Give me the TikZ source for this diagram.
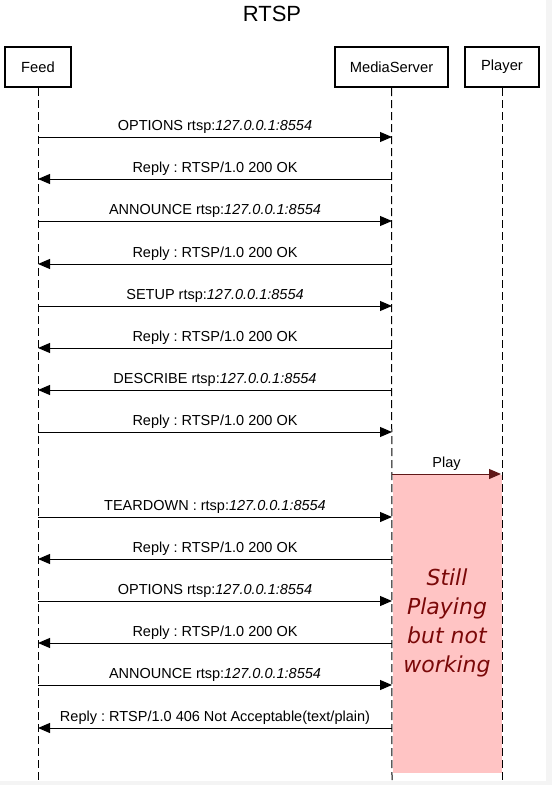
\documentclass[tikz,border=0pt]{standalone}
\usepackage{fontspec}
\setmainfont{Liberation Sans}
\newfontfamily\djv{DejaVu Sans}
\usetikzlibrary{arrows.meta}
\frenchspacing
\definecolor{bggray}{RGB}{244,244,244}
\definecolor{pinkbox}{RGB}{255,196,196}
\definecolor{darkred}{RGB}{122,8,8}
\definecolor{playline}{RGB}{96,24,24}
\tikzset{
  actor/.style={draw=black, line width=2pt, minimum height=40pt, inner sep=0pt, font=\fontsize{14.7}{17}\selectfont},
  lifeline/.style={draw=black, line width=1pt, dash pattern=on 8pt off 4pt},
  msg/.style={draw=black, line width=1pt, -{Triangle[length=12pt,width=10pt]}},
  lbl/.style={font=\fontsize{14.5}{17}\selectfont, inner sep=0pt, anchor=base},
}
\begin{document}
\begin{tikzpicture}[x=1pt,y=-1pt]
\fill[bggray] (0,0) rectangle (552,785);
\fill[white] (0,0) rectangle (546,781);
\useasboundingbox (0,0) rectangle (552,785);
\node[font=\fontsize{22}{26}\selectfont] (title) at (272,14) {RTSP};
\node[actor, minimum width=66pt] (feed) at (38,67) {Feed};
\node[actor, minimum width=113pt] (ms) at (391.5,67) {MediaServer};
\node[actor, minimum width=74pt] (pl) at (502,67) {Player};
\coordinate (feedend) at (38,780);
\coordinate (msend) at (392,780);
\coordinate (plend) at (502,780);
% pink box
\node[fill=pinkbox, draw=none, minimum width=109pt, minimum height=298pt, inner sep=0pt, anchor=north west] (still) at (392.5,475) {};
\node[text=darkred, font=\djv\itshape\fontsize{22}{29}\selectfont, align=center, inner sep=0pt] (stilltext) at (447,623)
  {Still\\Playing\\but not\\working};
\draw[lifeline] (feed.south) -- (feedend);
\draw[lifeline] (ms.south) -- (msend);
\draw[lifeline] (pl.south) -- (plend);
% message coordinates
\foreach \i/\y in {1/137,2/179,3/221,4/264,5/306,6/348,7/390,8/432,9/474,10/517,11/559,12/601,13/643,14/685,15/728}{
  \coordinate (F\i) at (38,\y);
  \coordinate (M\i) at (392,\y);
  \coordinate (P\i) at (501,\y);
}
\newcommand\ipaddr{rtsp:\textit{127.0.0.1:8554}}
\draw[msg] (F1) -- node[lbl, above=3pt]{OPTIONS \ipaddr} (M1);
\draw[msg] (M2) -- node[lbl, above=3pt]{Reply : RTSP/1.0 200 OK} (F2);
\draw[msg] (F3) -- node[lbl, above=3pt]{ANNOUNCE \ipaddr} (M3);
\draw[msg] (M4) -- node[lbl, above=3pt]{Reply : RTSP/1.0 200 OK} (F4);
\draw[msg] (F5) -- node[lbl, above=3pt]{SETUP \ipaddr} (M5);
\draw[msg] (M6) -- node[lbl, above=3pt]{Reply : RTSP/1.0 200 OK} (F6);
\draw[msg] (M7) -- node[lbl, above=3pt]{DESCRIBE \ipaddr} (F7);
\draw[msg] (F8) -- node[lbl, above=3pt]{Reply : RTSP/1.0 200 OK} (M8);
\draw[msg, draw=playline] (M9) -- node[lbl, above=3pt, text=black]{Play} (P9);
\draw[msg] (F10) -- node[lbl, above=3pt]{TEARDOWN : \ipaddr} (M10);
\draw[msg] (M11) -- node[lbl, above=3pt]{Reply : RTSP/1.0 200 OK} (F11);
\draw[msg] (F12) -- node[lbl, above=3pt]{OPTIONS \ipaddr} (M12);
\draw[msg] (M13) -- node[lbl, above=3pt]{Reply : RTSP/1.0 200 OK} (F13);
\draw[msg] (F14) -- node[lbl, above=3pt]{ANNOUNCE \ipaddr} (M14);
\draw[msg] (M15) -- node[lbl, above=3pt]{Reply : RTSP/1.0 406 Not Acceptable(text/plain)} (F15);
\end{tikzpicture}
\end{document}
